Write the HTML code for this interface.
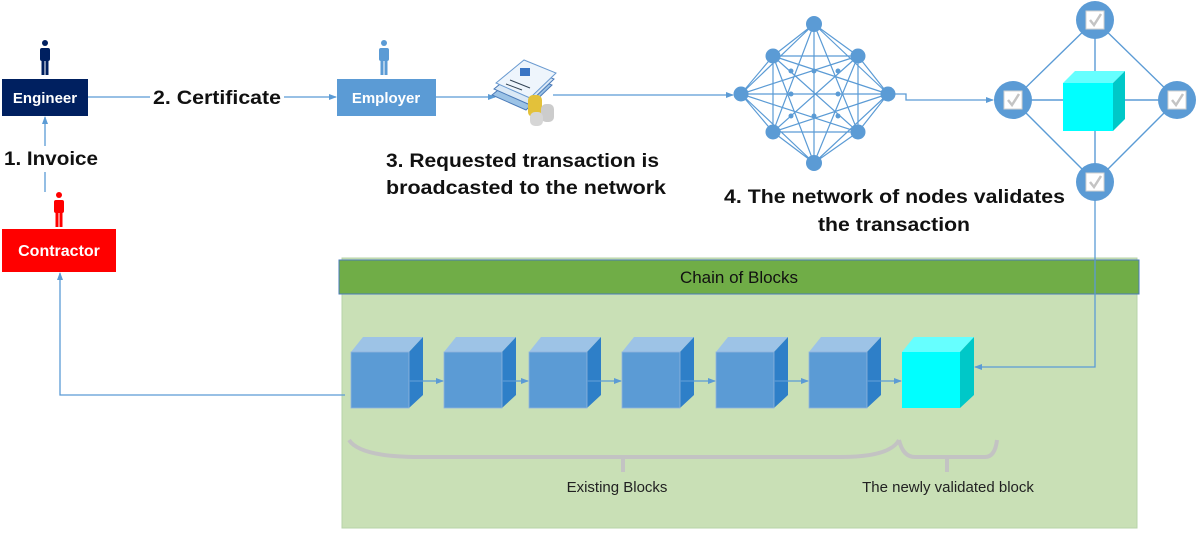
<!DOCTYPE html>
<html><head><meta charset="utf-8"><style>
html,body{margin:0;padding:0;background:#fff;}
svg{display:block;}
text{font-family:"Liberation Sans",sans-serif;}
</style></head><body>
<svg width="1200" height="535" viewBox="0 0 1200 535" xmlns="http://www.w3.org/2000/svg">
<defs>
<marker id="a" markerWidth="8" markerHeight="8" refX="7" refY="4" orient="auto" markerUnits="userSpaceOnUse">
<path d="M0,1 L8,4 L0,7 Z" fill="#5b9bd5"/></marker>
<g id="chk"><rect x="-9" y="-9" width="18" height="18" fill="#fff" stroke="#d0d0d0"/><path d="M-5,0 L-1,5 L6,-6" stroke="#c4c4c4" stroke-width="2.5" fill="none"/></g>
<g id="person"><circle cx="0" cy="3" r="3"/><rect x="-5" y="8" width="10" height="13" rx="2"/><rect x="-3.5" y="19" width="3" height="16"/><rect x="0.5" y="19" width="3" height="16"/></g>
</defs>

<rect x="342" y="258" width="795" height="270" fill="#c9e0b6" stroke="#b7d3a8"/>
<rect x="339" y="260" width="800" height="34" fill="#70ad47" stroke="#4a7ab8"/>
<text x="739" y="283" font-size="17" text-anchor="middle" fill="#111">Chain of Blocks</text>

<use href="#person" x="45" y="40" fill="#002060"/>
<use href="#person" x="384" y="40" fill="#5b9bd5"/>
<use href="#person" x="59" y="192" fill="#ff0000"/>

<rect x="2" y="79" width="86" height="37" fill="#002060"/>
<text x="45" y="103" font-size="15" font-weight="bold" fill="#fff" text-anchor="middle">Engineer</text>
<rect x="337" y="79" width="99" height="37" fill="#5b9bd5"/>
<text x="386" y="103" font-size="15" font-weight="bold" fill="#fff" text-anchor="middle">Employer</text>
<rect x="2" y="229" width="114" height="43" fill="#ff0000"/>
<text x="59" y="256" font-size="16" font-weight="bold" fill="#fff" text-anchor="middle">Contractor</text>

<g stroke="#5b9bd5" stroke-width="1.3" fill="none">
<line x1="88" y1="97" x2="150" y2="97"/>
<line x1="284" y1="97" x2="336" y2="97" marker-end="url(#a)"/>
<line x1="45" y1="146" x2="45" y2="117" marker-end="url(#a)"/>
<line x1="45" y1="172" x2="45" y2="192"/>
<line x1="436" y1="97" x2="495" y2="97" marker-end="url(#a)"/>
<line x1="553" y1="95" x2="733" y2="95" marker-end="url(#a)"/>
<polyline points="895,94 906,94 906,100 993,100" marker-end="url(#a)"/>
<polyline points="1095,200 1095,367 975,367" marker-end="url(#a)"/>
<polyline points="345,395 60,395 60,273" marker-end="url(#a)"/>
</g>

<g>
<path d="M492,95 L520,72 L552,85 L526,110 Z" fill="#9cc3e6" stroke="#4a7ab8"/>
<path d="M494,89 L522,66 L554,79 L528,104 Z" fill="#dbe9f6" stroke="#4a7ab8"/>
<path d="M496,83 L524,60 L556,73 L530,98 Z" fill="#eef5fc" stroke="#6a9ad0"/>
<rect x="520" y="68" width="10" height="8" fill="#3a75c4"/>
<g stroke="#345" stroke-width="1"><line x1="506" y1="84" x2="522" y2="90"/><line x1="510" y1="80" x2="530" y2="88"/></g>
<rect x="528" y="95" width="14" height="22" rx="5" fill="#e3c13a"/>
<rect x="541" y="104" width="13" height="18" rx="5" fill="#ccc"/>
<rect x="530" y="112" width="13" height="14" rx="5" fill="#d6d6d6"/>
</g>

<g font-weight="bold" fill="#111">
<text x="217" y="104" font-size="19" text-anchor="middle" textLength="128" lengthAdjust="spacingAndGlyphs">2. Certificate</text>
<text x="51" y="165" font-size="19" text-anchor="middle" textLength="94" lengthAdjust="spacingAndGlyphs">1. Invoice</text>
<text x="386" y="167" font-size="19" textLength="273" lengthAdjust="spacingAndGlyphs">3. Requested transaction is</text>
<text x="386" y="194" font-size="19" textLength="280" lengthAdjust="spacingAndGlyphs">broadcasted to the network</text>
<text x="724" y="203" font-size="19" textLength="341" lengthAdjust="spacingAndGlyphs">4. The network of nodes validates</text>
<text x="894" y="231" font-size="19" text-anchor="middle" textLength="152" lengthAdjust="spacingAndGlyphs">the transaction</text>
</g>

<g stroke="#5b9bd5" stroke-width="1.2">
<path d="M814,24L773,56M814,24L858,56M814,24L741,94M814,24L888,94M814,24L773,132M814,24L858,132M814,24L814,163
M773,56L858,56M773,56L741,94M773,56L888,94M773,56L773,132M773,56L858,132M773,56L814,163
M858,56L741,94M858,56L888,94M858,56L773,132M858,56L858,132M858,56L814,163
M741,94L888,94M741,94L773,132M741,94L858,132M741,94L814,163
M888,94L773,132M888,94L858,132M888,94L814,163
M773,132L858,132M773,132L814,163M858,132L814,163"/>
</g>
<g fill="#5b9bd5">
<circle cx="814" cy="24" r="8"/><circle cx="773" cy="56" r="7.5"/><circle cx="858" cy="56" r="7.5"/>
<circle cx="741" cy="94" r="7.5"/><circle cx="888" cy="94" r="7.5"/><circle cx="773" cy="132" r="7.5"/>
<circle cx="858" cy="132" r="7.5"/><circle cx="814" cy="163" r="8"/>
<circle cx="791" cy="71" r="2.5"/><circle cx="814" cy="71" r="2.5"/><circle cx="838" cy="71" r="2.5"/>
<circle cx="791" cy="94" r="2.5"/><circle cx="838" cy="94" r="2.5"/>
<circle cx="791" cy="116" r="2.5"/><circle cx="814" cy="116" r="2.5"/><circle cx="838" cy="116" r="2.5"/>
</g>

<g stroke="#5b9bd5" stroke-width="1.4">
<line x1="1095" y1="20" x2="1013" y2="100"/><line x1="1095" y1="20" x2="1177" y2="100"/>
<line x1="1013" y1="100" x2="1095" y2="182"/><line x1="1177" y1="100" x2="1095" y2="182"/>
<line x1="1095" y1="20" x2="1095" y2="182"/><line x1="1013" y1="100" x2="1177" y2="100"/>
</g>
<g fill="#5b9bd5">
<circle cx="1095" cy="20" r="19"/><circle cx="1013" cy="100" r="19"/><circle cx="1177" cy="100" r="19"/><circle cx="1095" cy="182" r="19"/>
</g>
<use href="#chk" x="1095" y="20"/><use href="#chk" x="1013" y="100"/><use href="#chk" x="1177" y="100"/><use href="#chk" x="1095" y="182"/>
<g>
<path d="M1063,83 L1075,71 L1125,71 L1113,83 Z" fill="#66ffff"/>
<path d="M1113,83 L1125,71 L1125,119 L1113,131 Z" fill="#00c8c8"/>
<rect x="1063" y="83" width="50" height="48" fill="#00ffff"/>
</g>

<g>
<g id="c"><path d="M351,352 L363,337 L423,337 L409,352 Z" fill="#9dc3e6"/><path d="M409,352 L423,337 L423,395 L409,408 Z" fill="#2e7fc8"/><rect x="351" y="352" width="58" height="56" fill="#5b9bd5" stroke="#8fb4dc" stroke-width="0.8"/></g>
<use href="#c" x="93"/><use href="#c" x="178"/><use href="#c" x="271"/><use href="#c" x="365"/><use href="#c" x="458"/>
<path d="M902,352 L914,337 L974,337 L960,352 Z" fill="#66ffff"/><path d="M960,352 L974,337 L974,395 L960,408 Z" fill="#00c8c8"/><rect x="902" y="352" width="58" height="56" fill="#00ffff"/>
</g>
<g stroke="#5b9bd5" stroke-width="1.3">
<line x1="409" y1="381" x2="443" y2="381" marker-end="url(#a)"/>
<line x1="502" y1="381" x2="528" y2="381" marker-end="url(#a)"/>
<line x1="587" y1="381" x2="621" y2="381" marker-end="url(#a)"/>
<line x1="680" y1="381" x2="715" y2="381" marker-end="url(#a)"/>
<line x1="774" y1="381" x2="808" y2="381" marker-end="url(#a)"/>
<line x1="867" y1="381" x2="901" y2="381" marker-end="url(#a)"/>
</g>

<g stroke="#c3c3c3" stroke-width="4" fill="none">
<path d="M349,440 Q360,457 420,457 L840,457 Q890,457 899,440"/>
<line x1="623" y1="457" x2="623" y2="472"/>
<path d="M899,440 Q903,457 915,457 L985,457 Q995,457 997,440"/>
<line x1="947" y1="457" x2="947" y2="472"/>
</g>
<text x="617" y="492" font-size="15" text-anchor="middle" fill="#222">Existing Blocks</text>
<text x="948" y="492" font-size="15" text-anchor="middle" fill="#222">The newly validated block</text>
</svg>
</body></html>
